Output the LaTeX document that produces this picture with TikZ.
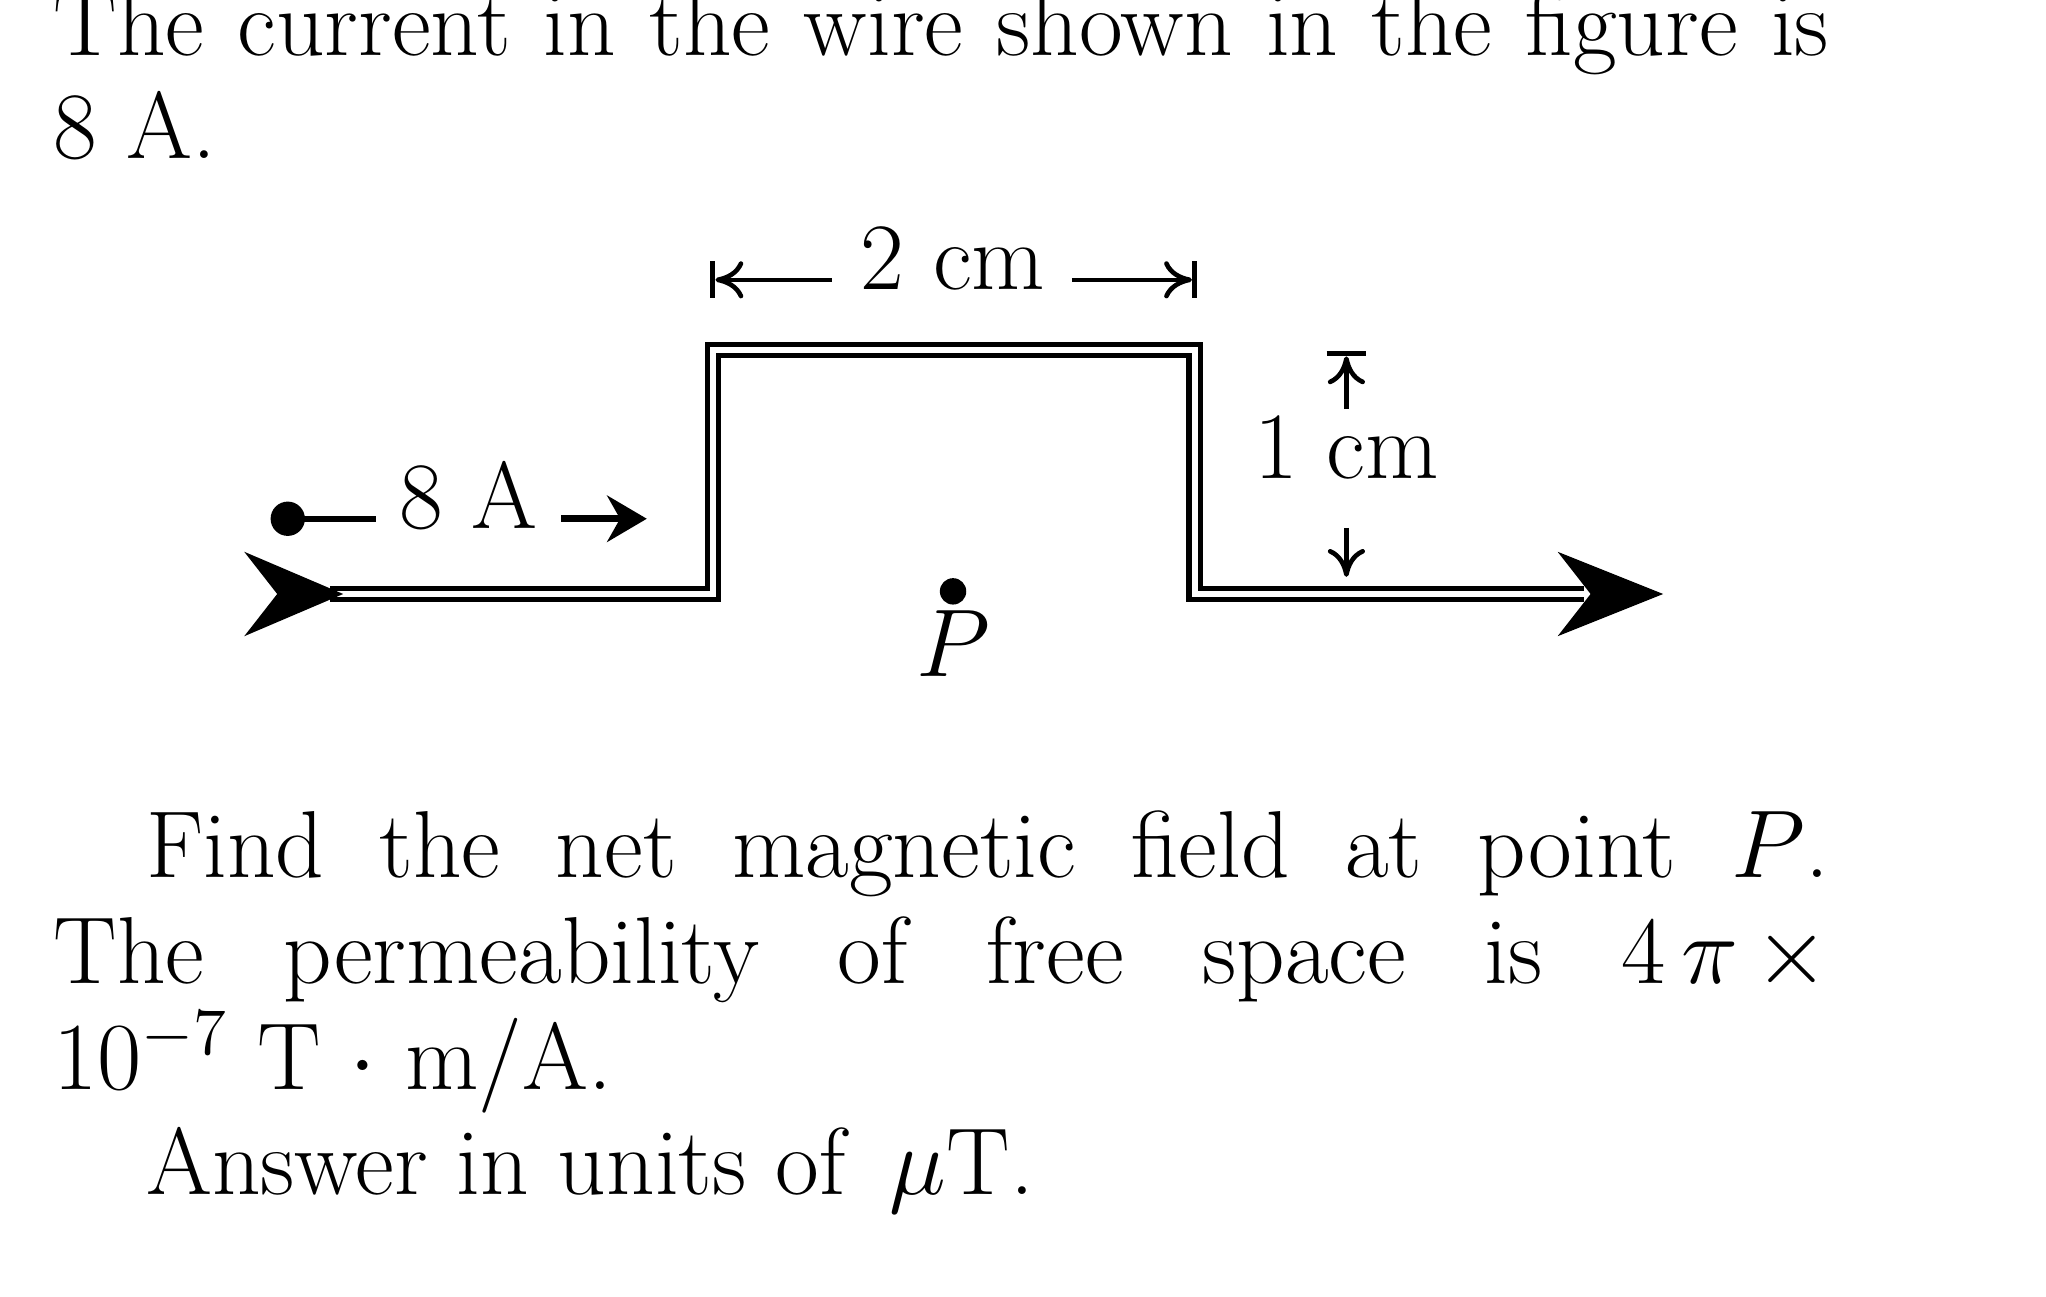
\documentclass[tikz,border=0pt]{standalone}
\usetikzlibrary{arrows.meta}
\begin{document}
\begin{tikzpicture}[x=1cm,y=-1cm,
  txt/.style={anchor=base west,inner sep=0pt,font=\fontsize{20.5}{25}\selectfont},
  wire/.style={double=white,line width=1.1pt,double distance=1.3pt,black},
  dimarr/.style={-{To[length=6pt,width=8pt]},line width=1pt},
  head/.style={fill=black}]
\useasboundingbox (0,0) rectangle (15.5,9.82);
% top text
\node[txt] (t1) at (0.4,0.42) {\makebox[13.45cm][s]{The current in the wire shown in the figure is}};
\node[txt] (t2) at (0.4,1.2) {8 A.};
% wire
\coordinate (a) at (2.5,4.5);
\coordinate (b) at (5.4,4.5);
\coordinate (c) at (5.4,2.65);
\coordinate (d) at (9.05,2.65);
\coordinate (e) at (9.05,4.5);
\coordinate (f) at (12.0,4.5);
\draw[wire,line join=miter] (a) -- (b) -- (c) -- (d) -- (e) -- (f);
% arrowheads
\fill[head] (2.6,4.5) -- (1.85,4.18) -- (2.1,4.5) -- (1.85,4.82) -- cycle;
\fill[head] (12.6,4.5) -- (11.8,4.18) -- (12.05,4.5) -- (11.8,4.82) -- cycle;
% current label
\coordinate (dot) at (2.18,3.93);
\coordinate (ln) at (2.85,3.93);
\fill (dot) circle (0.13);
\draw[line width=1.4pt] (dot) -- (ln);
\node[txt,anchor=mid] (cur) at (3.55,3.93) {8 A};
\coordinate (ca) at (4.25,3.93);
\coordinate (cb) at (4.9,3.93);
\draw[-{Stealth[length=0.3cm,width=0.35cm]},line width=1.6pt] (ca) -- (cb);
% 2 cm dimension
\coordinate (l1) at (5.4,1.98); \coordinate (l2) at (5.4,2.26);
\coordinate (r1) at (9.05,1.98); \coordinate (r2) at (9.05,2.26);
\draw[line width=1pt] (l1) -- (l2) (r1) -- (r2);
\node[txt,anchor=mid] (two) at (7.22,2.12) {2 cm};
\coordinate (la) at (6.3,2.12); \coordinate (lb) at (5.42,2.12);
\coordinate (ra) at (8.12,2.12); \coordinate (rb) at (9.03,2.12);
\draw[dimarr] (la) -- (lb);
\draw[dimarr] (ra) -- (rb);
% 1 cm dimension
\coordinate (u1) at (10.05,2.68); \coordinate (u2) at (10.35,2.68);
\draw[line width=1pt] (u1) -- (u2);
\node[txt,anchor=mid] (one) at (10.2,3.55) {1 cm};
\coordinate (ua) at (10.2,3.1); \coordinate (ub) at (10.2,2.7);
\coordinate (da) at (10.2,4.0); \coordinate (db) at (10.2,4.37);
\draw[dimarr] (ua) -- (ub);
\draw[dimarr] (da) -- (db);
% P
\fill (7.22,4.48) circle (0.1);
\node[txt,anchor=mid] (P) at (7.22,5.05) {$P$};
% bottom text
\node[txt] (b1) at (1.1,6.65) {\makebox[12.75cm][s]{Find the net magnetic field at point $P$.}};
\node[txt] (b2) at (0.4,7.45) {\makebox[13.45cm][s]{The permeability of free space is $4\,\pi\,\times$}};
\node[txt] (b3) at (0.4,8.25) {$10^{-7}$ T $\cdot$ m/A.};
\node[txt] (b4) at (1.1,9.05) {Answer in units of \,$\mu$T.};
\end{tikzpicture}
\end{document}
